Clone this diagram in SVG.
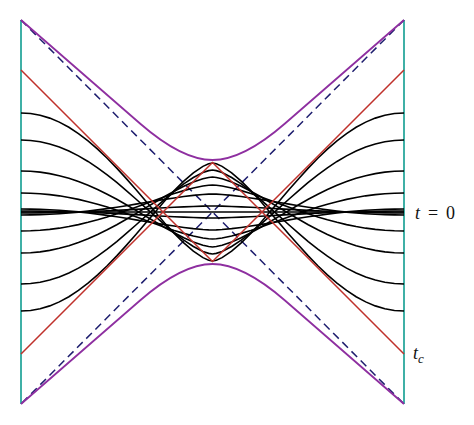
<svg xmlns="http://www.w3.org/2000/svg" xmlns:xlink="http://www.w3.org/1999/xlink" width="474" height="425" viewBox="0 0 474 425">
<style>
.edge{stroke:#3fb0a6;stroke-width:2;fill:none}
.hor{stroke:#1d1d6e;stroke-width:1.5;stroke-dasharray:8 5;fill:none}
.red{stroke:#c0312b;stroke-width:1.5;fill:none;stroke-linejoin:miter}
.sing{stroke:#8e2fa0;stroke-width:1.8;fill:none}
.slice{stroke:#000;stroke-width:1.6;fill:none;vector-effect:non-scaling-stroke}
.lbl{font-family:"Liberation Serif",serif;font-size:18px;fill:#111}
</style>
<defs>
<path id="g" class="slice" d="M-1,1 L-0.95,0.9962 L-0.9,0.9847 L-0.85,0.9654 L-0.8,0.9384 L-0.75,0.9036 L-0.7,0.8611 L-0.65,0.8118 L-0.6,0.756 L-0.55,0.6944 L-0.5,0.6274 L-0.45,0.5564 L-0.4,0.4826 L-0.35,0.4069 L-0.3,0.3322 L-0.25,0.2573 L-0.2,0.1868 L-0.15,0.1222 L-0.1,0.0662 L-0.05,0.0227 L-0.02,0.0055 L0,0 L0.02,0.0055 L0.05,0.0227 L0.1,0.0662 L0.15,0.1222 L0.2,0.1868 L0.25,0.2573 L0.3,0.3322 L0.35,0.4069 L0.4,0.4826 L0.45,0.5564 L0.5,0.6274 L0.55,0.6944 L0.6,0.756 L0.65,0.8118 L0.7,0.8611 L0.75,0.9036 L0.8,0.9384 L0.85,0.9654 L0.9,0.9847 L0.95,0.9962 L1,1"/>
</defs>
<g id="boundaries">
<line class="edge" x1="21" y1="20" x2="21" y2="404"/>
<line class="edge" x1="404" y1="20" x2="404" y2="404"/>
</g>
<g id="horizons">
<line class="hor" x1="21" y1="20" x2="404" y2="404"/>
<line class="hor" x1="404" y1="20" x2="21" y2="404"/>
</g>
<g id="slices">
<use xlink:href="#g" transform="matrix(191.5,0,0,-148,212.5,261)"/>
<use xlink:href="#g" transform="matrix(191.5,0,0,-114,212.5,254)"/>
<use xlink:href="#g" transform="matrix(191.5,0,0,-76,212.5,247)"/>
<use xlink:href="#g" transform="matrix(191.5,0,0,-46,212.5,239)"/>
<use xlink:href="#g" transform="matrix(191.5,0,0,-21,212.5,230)"/>
<use xlink:href="#g" transform="matrix(191.5,0,0,-7,212.5,218)"/>
<line class="slice" x1="21" y1="212" x2="404" y2="212"/>
<use xlink:href="#g" transform="matrix(191.5,0,0,7,212.5,206)"/>
<use xlink:href="#g" transform="matrix(191.5,0,0,21,212.5,194)"/>
<use xlink:href="#g" transform="matrix(191.5,0,0,46,212.5,185)"/>
<use xlink:href="#g" transform="matrix(191.5,0,0,76,212.5,177)"/>
<use xlink:href="#g" transform="matrix(191.5,0,0,114,212.5,170)"/>
<use xlink:href="#g" transform="matrix(191.5,0,0,148,212.5,163)"/>
</g>
<g id="light-rays">
<polyline class="red" points="21,70 212.5,261.5 404,70"/>
<polyline class="red" points="21,354 212.5,162.5 404,354"/>
</g>
<g id="singularities">
<path class="sing" d="M21,20 L140,123.5 C165,145.25 190,160 212.5,160 C235,160 260,145.25 285,123.5 L404,20"/>
<path class="sing" d="M21,404 L140,300.5 C165,278.75 190,264 212.5,264 C235,264 260,278.75 285,300.5 L404,404"/>
</g>
<g id="labels">
<text class="lbl" x="415" y="219" textLength="40" lengthAdjust="spacing"><tspan font-style="italic">t</tspan> = 0</text>
<text class="lbl" x="413" y="359"><tspan font-style="italic">t</tspan><tspan font-style="italic" font-size="13" dy="4">c</tspan></text>
</g>
</svg>
